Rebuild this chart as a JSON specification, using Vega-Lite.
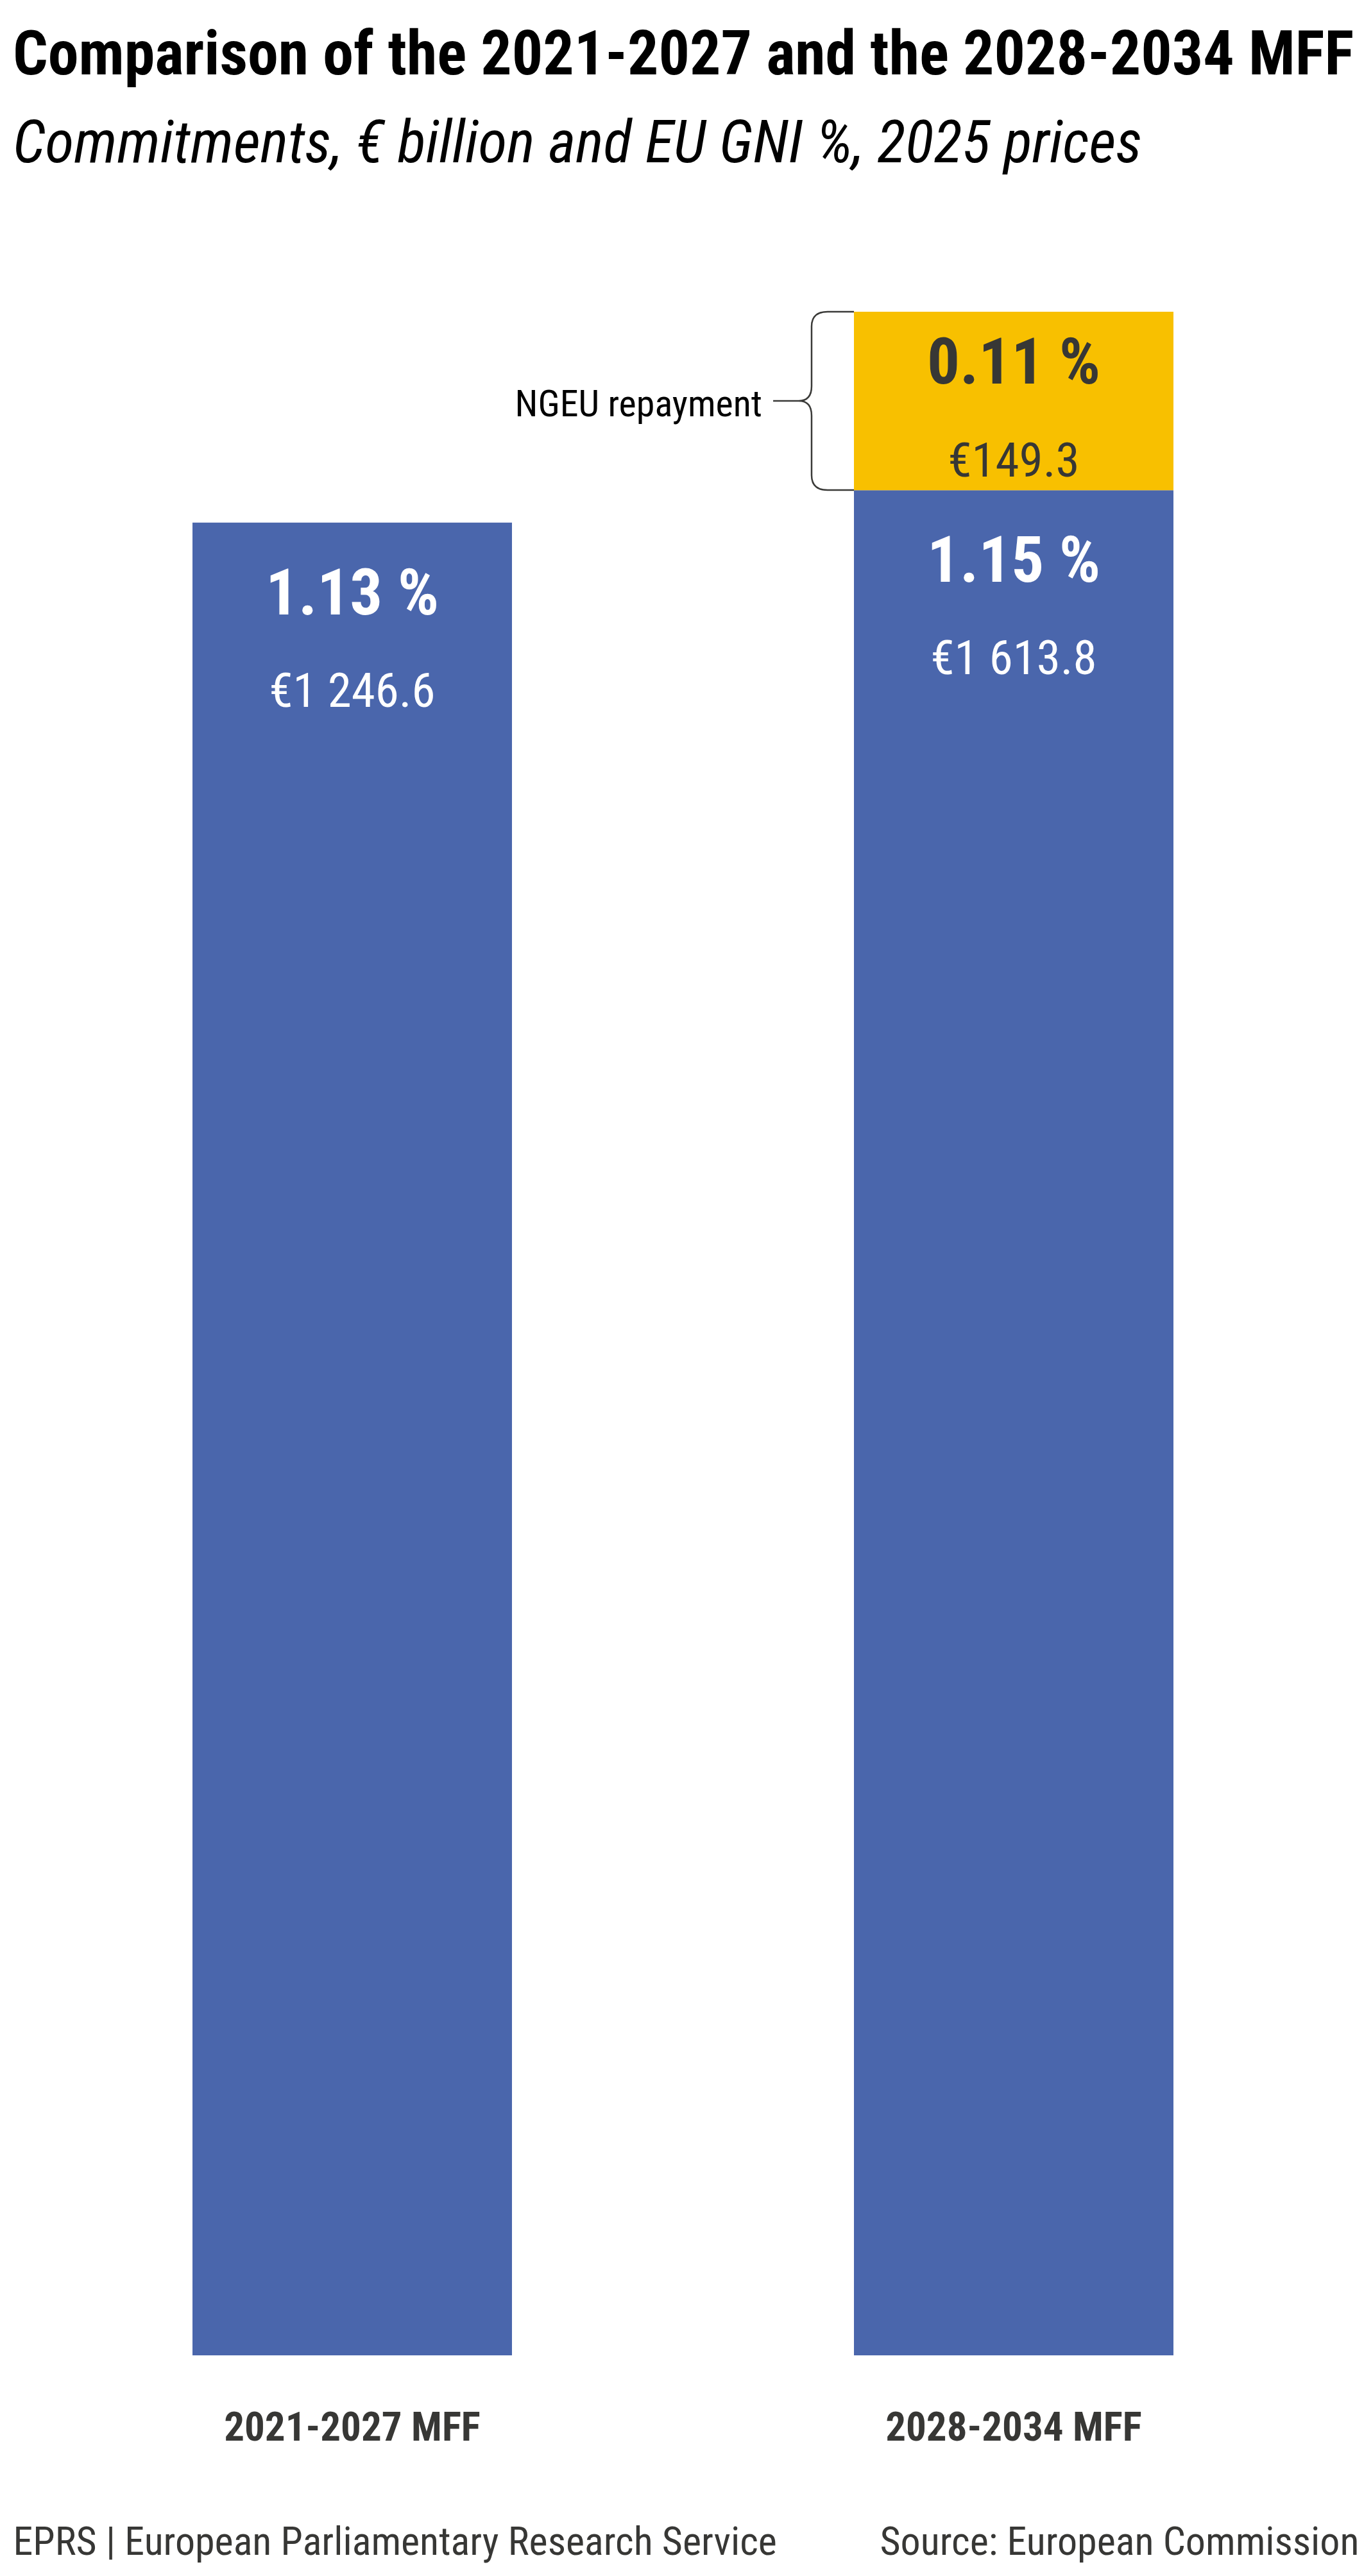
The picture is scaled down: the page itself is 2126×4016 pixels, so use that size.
{
  "$schema": "https://vega.github.io/schema/vega-lite/v6.json",
  "width": 2089,
  "height": 3186,
  "padding": {"left": 20, "right": 0, "top": 39, "bottom": 20},
  "background": "white",
  "title": {
    "text": "Comparison of the 2021-2027 and the 2028-2034 MFF",
    "subtitle": "Commitments, € billion and EU GNI %, 2025 prices",
    "anchor": "start",
    "font": "Roboto Condensed, Roboto",
    "fontSize": 96,
    "fontWeight": "bold",
    "color": "#000000",
    "subtitleFont": "Roboto Condensed, Roboto",
    "subtitleFontSize": 92,
    "subtitleFontStyle": "italic",
    "subtitleColor": "#000000",
    "subtitlePadding": 44,
    "offset": 209
  },
  "config": {
    "view": {"stroke": null},
    "locale": {
      "number": {"decimal": ".", "thousands": " ", "grouping": [3], "currency": ["€", ""]}
    }
  },
  "data": {
    "values": [
      {"period": "2021-2027 MFF", "segment": "MFF", "gni": 1.13, "amount": 1246.6, "order": 1},
      {"period": "2028-2034 MFF", "segment": "MFF", "gni": 1.15, "amount": 1613.8, "order": 1},
      {"period": "2028-2034 MFF", "segment": "NGEU repayment", "gni": 0.11, "amount": 149.3, "order": 2}
    ]
  },
  "transform": [
    {"stack": "gni", "groupby": ["period"], "sort": [{"field": "order", "order": "ascending"}], "as": ["y0", "y1"]},
    {"calculate": "format(datum.gni, '.2f') + ' %'", "as": "pct"}
  ],
  "encoding": {
    "x": {
      "field": "period",
      "type": "nominal",
      "sort": null,
      "scale": {"paddingInner": 0.517, "paddingOuter": 0.2716},
      "axis": {
        "domain": false,
        "ticks": false,
        "tickSize": 0,
        "labelAngle": 0,
        "labelLimit": 0,
        "labelFont": "Roboto Condensed, Roboto",
        "labelFontSize": 63,
        "labelFontWeight": "bold",
        "labelColor": "#373735",
        "labelPadding": 132,
        "labelBaseline": "alphabetic",
        "title": "EPRS | European Parliamentary Research Service",
        "titleFont": "Roboto Condensed, Roboto",
        "titleFontSize": 62,
        "titleFontWeight": "normal",
        "titleColor": "#373735",
        "titleAnchor": "start",
        "titleAlign": "left",
        "titleBaseline": "alphabetic",
        "titleLimit": 0,
        "titleX": 0,
        "titleY": 310
      }
    },
    "y": {
      "field": "y1",
      "type": "quantitative",
      "scale": {"domain": [0, 1.26], "nice": false},
      "axis": {
        "domain": false,
        "ticks": false,
        "labels": false,
        "grid": false,
        "title": "Source: European Commission",
        "titleAngle": 0,
        "titleFont": "Roboto Condensed, Roboto",
        "titleFontSize": 62,
        "titleFontWeight": "normal",
        "titleColor": "#373735",
        "titleAlign": "right",
        "titleBaseline": "alphabetic",
        "titleLimit": 0,
        "titleX": 2098,
        "titleY": 3496
      }
    }
  },
  "layer": [
    {
      "mark": {"type": "bar"},
      "encoding": {
        "y2": {"field": "y0"},
        "color": {
          "field": "segment",
          "type": "nominal",
          "scale": {"domain": ["MFF", "NGEU repayment"], "range": ["#4a66ac", "#f8c000"]},
          "legend": null
        }
      }
    },
    {
      "transform": [{"filter": "datum.segment == 'MFF'"}],
      "mark": {"type": "text", "baseline": "alphabetic", "dy": 143, "fontSize": 101, "fontWeight": "bold", "color": "#ffffff", "font": "Roboto Condensed, Roboto"},
      "encoding": {"text": {"field": "pct"}}
    },
    {
      "transform": [{"filter": "datum.segment == 'MFF'"}],
      "mark": {"type": "text", "baseline": "alphabetic", "dy": 287, "fontSize": 75, "color": "#ffffff", "font": "Roboto Condensed, Roboto"},
      "encoding": {"text": {"field": "amount", "type": "quantitative", "format": "$,.1f"}}
    },
    {
      "transform": [{"filter": "datum.segment == 'NGEU repayment'"}],
      "mark": {"type": "text", "baseline": "alphabetic", "dy": 112, "fontSize": 101, "fontWeight": "bold", "color": "#373735", "font": "Roboto Condensed, Roboto"},
      "encoding": {"text": {"field": "pct"}}
    },
    {
      "transform": [{"filter": "datum.segment == 'NGEU repayment'"}],
      "mark": {"type": "text", "baseline": "alphabetic", "dy": 257, "fontSize": 75, "color": "#373735", "font": "Roboto Condensed, Roboto"},
      "encoding": {"text": {"field": "amount", "type": "quantitative", "format": "$,.1f"}}
    },
    {
      "transform": [{"filter": "datum.segment == 'NGEU repayment'"}],
      "mark": {"type": "text", "baseline": "alphabetic", "align": "right", "dx": -143, "dy": 163, "fontSize": 58, "color": "#000000", "font": "Roboto Condensed, Roboto"},
      "encoding": {
        "x": {"field": "period", "type": "nominal", "sort": null, "bandPosition": 0},
        "text": {"field": "segment"}
      }
    },
    {
      "transform": [{"filter": "datum.segment == 'NGEU repayment'"}],
      "mark": {
        "type": "point",
        "shape": "M0,0 L-0.295,0 Q-0.475,0 -0.475,0.165 L-0.475,0.835 Q-0.475,1 -0.62,1 Q-0.475,1 -0.475,1.165 L-0.475,1.835 Q-0.475,2 -0.295,2 L0,2 M-0.62,1 L-0.906,1",
        "size": 77284,
        "filled": false,
        "fill": null,
        "stroke": "#3a3a38",
        "strokeWidth": 2.5,
        "opacity": 1
      },
      "encoding": {
        "x": {"field": "period", "type": "nominal", "sort": null, "bandPosition": 0}
      }
    }
  ]
}
